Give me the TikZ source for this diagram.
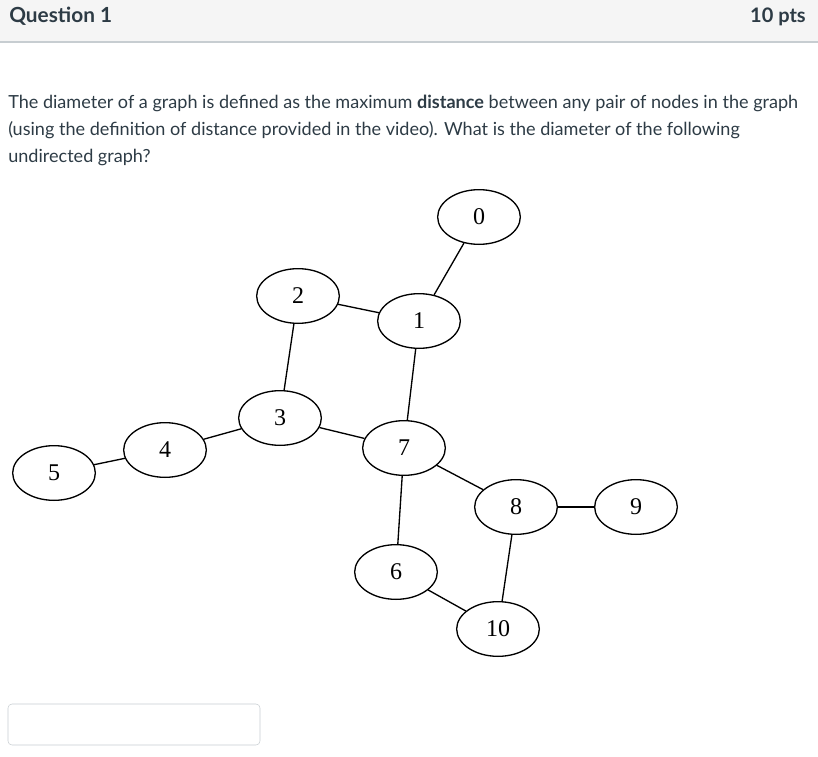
\documentclass[tikz,border=0pt]{standalone}
\usepackage{fontspec}
\setmainfont{Lato}
\newfontfamily\graphfont{Liberation Serif}
\usetikzlibrary{shapes.geometric}
\definecolor{headbg}{HTML}{F5F5F5}
\definecolor{headline}{HTML}{C7CDD1}
\definecolor{textcol}{HTML}{2D3B45}
\begin{document}
\begin{tikzpicture}[x=0.75pt,y=-0.75pt,text=textcol]

	\useasboundingbox (0,0) rectangle (818,757);
	\fill[headbg] (0,0) rectangle (818,42);
	\draw[headline,line width=1pt] (0,42) -- (818,42);

	\node (title) at (9,22.5) [anchor=base west,inner sep=0] {\fontsize{15.6}{18}\selectfont\bfseries Question 1};
	\node (points) at (806,22.5) [anchor=base east,inner sep=0] {\fontsize{15}{18}\selectfont\bfseries 10 pts};

	\begin{scope}[every node/.style={anchor=base west,inner sep=0,font=\fontsize{13.55}{16}\selectfont}]
		\node (line1) at (8,108.5) {The diameter of a graph is defined as the maximum \textbf{distance} between any pair of nodes in the graph};
		\node (line2) at (8,135.5) {(using the definition of distance provided in the video). What is the diameter of the following};
		\node (line3) at (8,162.5) {undirected graph?};
	\end{scope}

	\begin{scope}[every node/.style={draw=black,ellipse,line width=1pt,minimum width=62pt,minimum height=41pt,inner sep=0,text=black,font=\graphfont\fontsize{18}{20}\selectfont}]
		\node (n0) at (479,217) {0};
		\node (n1) at (419,321) {1};
		\node (n2) at (298,296) {2};
		\node (n3) at (280,418) {3};
		\node (n4) at (165,450) {4};
		\node (n5) at (54,473) {5};
		\node (n6) at (396,572) {6};
		\node (n7) at (404,448) {7};
		\node (n8) at (516,507) {8};
		\node (n9) at (636,507) {9};
		\node (n10) at (498,629) {10};
	\end{scope}

	\begin{scope}[line width=1pt]
		\draw (n0) -- (n1);
		\draw (n2) -- (n1);
		\draw (n2) -- (n3);
		\draw (n1) -- (n7);
		\draw (n3) -- (n7);
		\draw (n3) -- (n4);
		\draw (n4) -- (n5);
		\draw (n7) -- (n8);
		\draw (n7) -- (n6);
		\draw (n8) -- (n9);
		\draw (n8) -- (n10);
		\draw (n6) -- (n10);
	\end{scope}

	\node (answer) at (134,724.5) [draw=headline,rounded corners=3pt,minimum width=189pt,minimum height=30.75pt] {};

\end{tikzpicture}
\end{document}
